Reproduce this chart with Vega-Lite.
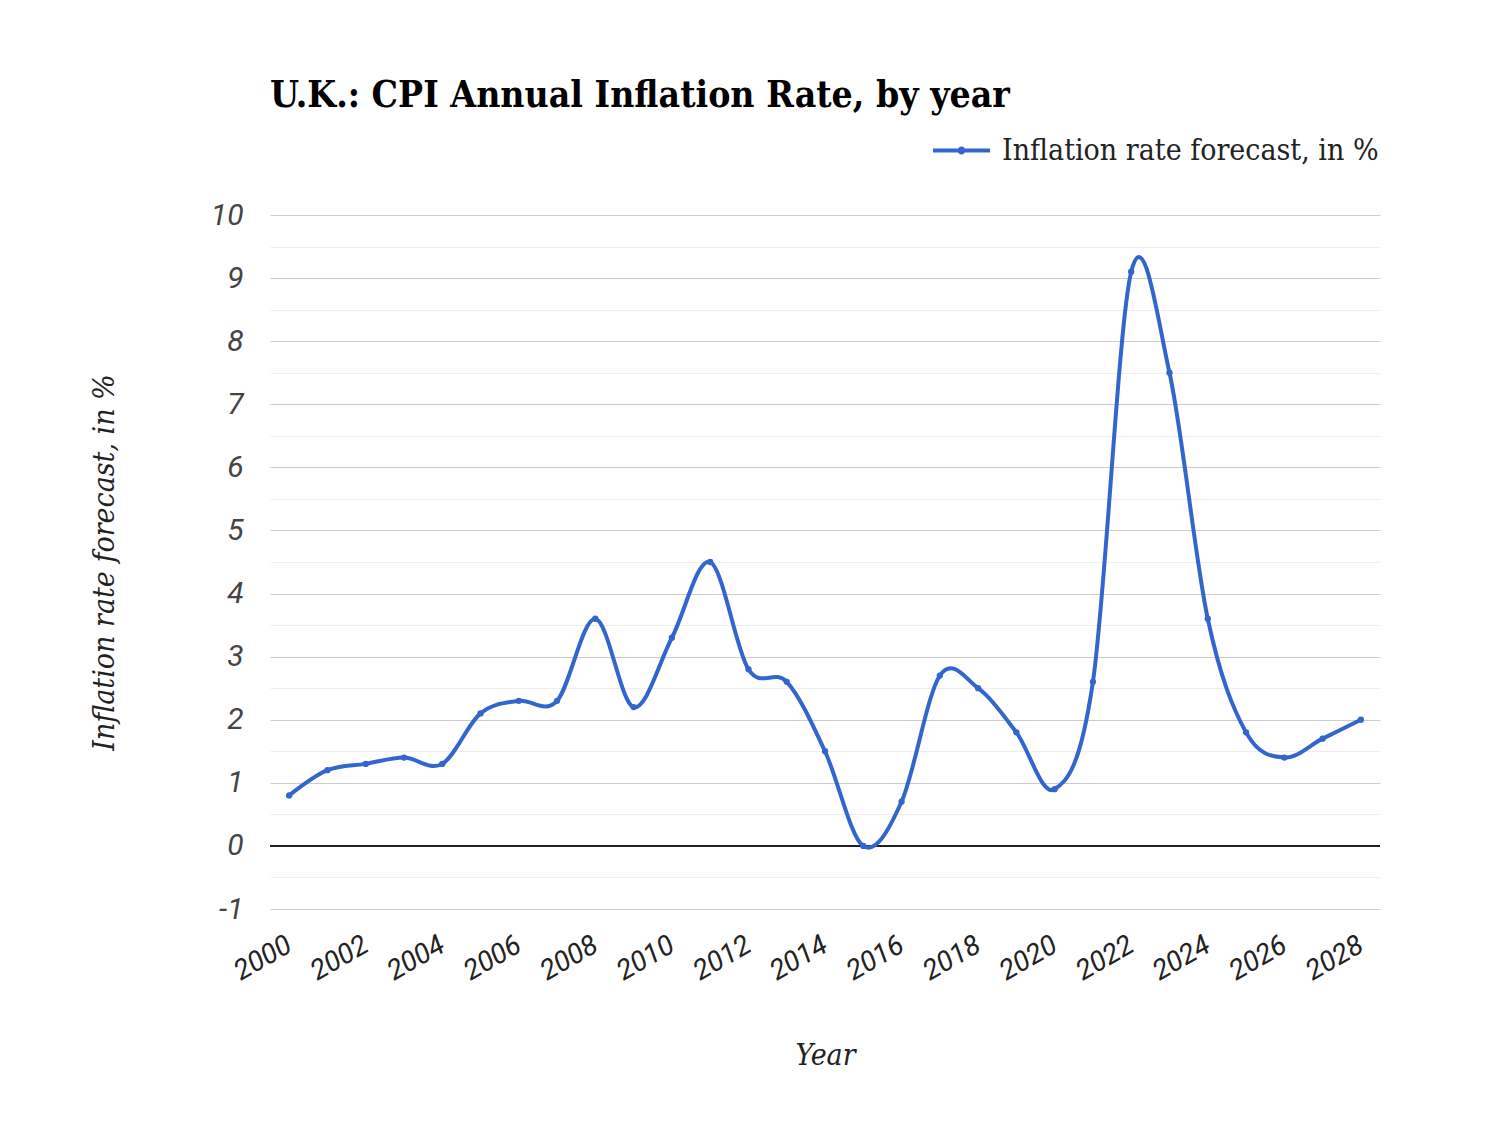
{
  "$schema": "https://vega.github.io/schema/vega-lite/v6.json",
  "width": 1110,
  "height": 694,
  "autosize": {"type": "none"},
  "padding": {"left": 270, "top": 215, "right": 120, "bottom": 216},
  "background": "white",
  "title": {
    "text": "U.K.: CPI Annual Inflation Rate, by year",
    "anchor": "start",
    "frame": "group",
    "font": "DejaVu Serif Condensed, DejaVu Serif",
    "fontSize": 37,
    "fontWeight": "bold",
    "color": "#000000",
    "offset": 7
  },
  "config": {
    "view": {"stroke": null},
    "axis": {"domain": false, "ticks": false}
  },
  "data": {
    "values": [
      {"year": 2000, "rate": 0.8, "series": "Inflation rate forecast, in %"},
      {"year": 2001, "rate": 1.2, "series": "Inflation rate forecast, in %"},
      {"year": 2002, "rate": 1.3, "series": "Inflation rate forecast, in %"},
      {"year": 2003, "rate": 1.4, "series": "Inflation rate forecast, in %"},
      {"year": 2004, "rate": 1.3, "series": "Inflation rate forecast, in %"},
      {"year": 2005, "rate": 2.1, "series": "Inflation rate forecast, in %"},
      {"year": 2006, "rate": 2.3, "series": "Inflation rate forecast, in %"},
      {"year": 2007, "rate": 2.3, "series": "Inflation rate forecast, in %"},
      {"year": 2008, "rate": 3.6, "series": "Inflation rate forecast, in %"},
      {"year": 2009, "rate": 2.2, "series": "Inflation rate forecast, in %"},
      {"year": 2010, "rate": 3.3, "series": "Inflation rate forecast, in %"},
      {"year": 2011, "rate": 4.5, "series": "Inflation rate forecast, in %"},
      {"year": 2012, "rate": 2.8, "series": "Inflation rate forecast, in %"},
      {"year": 2013, "rate": 2.6, "series": "Inflation rate forecast, in %"},
      {"year": 2014, "rate": 1.5, "series": "Inflation rate forecast, in %"},
      {"year": 2015, "rate": 0.0, "series": "Inflation rate forecast, in %"},
      {"year": 2016, "rate": 0.7, "series": "Inflation rate forecast, in %"},
      {"year": 2017, "rate": 2.7, "series": "Inflation rate forecast, in %"},
      {"year": 2018, "rate": 2.5, "series": "Inflation rate forecast, in %"},
      {"year": 2019, "rate": 1.8, "series": "Inflation rate forecast, in %"},
      {"year": 2020, "rate": 0.9, "series": "Inflation rate forecast, in %"},
      {"year": 2021, "rate": 2.6, "series": "Inflation rate forecast, in %"},
      {"year": 2022, "rate": 9.1, "series": "Inflation rate forecast, in %"},
      {"year": 2023, "rate": 7.5, "series": "Inflation rate forecast, in %"},
      {"year": 2024, "rate": 3.6, "series": "Inflation rate forecast, in %"},
      {"year": 2025, "rate": 1.8, "series": "Inflation rate forecast, in %"},
      {"year": 2026, "rate": 1.4, "series": "Inflation rate forecast, in %"},
      {"year": 2027, "rate": 1.7, "series": "Inflation rate forecast, in %"},
      {"year": 2028, "rate": 2.0, "series": "Inflation rate forecast, in %"}
    ]
  },
  "encoding": {
    "x": {
      "field": "year",
      "type": "quantitative",
      "scale": {"domain": [1999.5, 2028.5], "nice": false, "zero": false},
      "axis": {
        "title": "Year",
        "values": [2000, 2002, 2004, 2006, 2008, 2010, 2012, 2014, 2016, 2018, 2020, 2022, 2024, 2026, 2028],
        "format": "d",
        "grid": false,
        "labelAngle": -30,
        "labelAlign": "right",
        "labelBaseline": "middle",
        "labelFont": "Roboto",
        "labelFontStyle": "italic",
        "labelFontSize": 28,
        "labelColor": "#222222",
        "labelPadding": 34,
        "labelOverlap": false,
        "labelBound": false,
        "titleFont": "DejaVu Serif Condensed, DejaVu Serif",
        "titleFontStyle": "italic",
        "titleFontWeight": "normal",
        "titleFontSize": 30,
        "titleColor": "#222222",
        "titlePadding": 55
      }
    },
    "y": {
      "field": "rate",
      "type": "quantitative",
      "scale": {"domain": [-1, 10], "nice": false, "zero": false},
      "axis": {
        "title": "Inflation rate forecast, in %",
        "values": [-1, -0.5, 0, 0.5, 1, 1.5, 2, 2.5, 3, 3.5, 4, 4.5, 5, 5.5, 6, 6.5, 7, 7.5, 8, 8.5, 9, 9.5, 10],
        "labelExpr": "datum.value % 1 === 0 ? '' + datum.value : ''",
        "gridColor": {"condition": {"test": "datum.value % 1 === 0", "value": "#cccccc"}, "value": "#eeeeee"},
        "gridWidth": 1,
        "labelFont": "Roboto",
        "labelFontStyle": "italic",
        "labelFontSize": 30,
        "labelColor": "#444444",
        "labelPadding": 27,
        "labelOverlap": false,
        "titleFont": "DejaVu Serif Condensed, DejaVu Serif",
        "titleFontStyle": "italic",
        "titleFontWeight": "normal",
        "titleFontSize": 30,
        "titleColor": "#222222",
        "titlePadding": 91
      }
    }
  },
  "layer": [
    {
      "mark": {"type": "rule", "color": "#222222", "strokeWidth": 1.5},
      "encoding": {"y": {"datum": 0}, "x": {"value": 0}, "x2": {"value": 1110}}
    },
    {
      "mark": {"type": "line", "interpolate": "cardinal", "tension": 0, "strokeWidth": 4},
      "encoding": {
        "color": {
          "field": "series",
          "type": "nominal",
          "scale": {"range": ["#3366CC"]},
          "legend": {
            "title": null,
            "orient": "none",
            "legendX": 663,
            "legendY": -93,
            "symbolType": "M-1,-0.07 L1,-0.07 L1,0.07 L-1,0.07 Z M-0.14,0 A0.14,0.14 0 1,1 0.14,0 A0.14,0.14 0 1,1 -0.14,0 Z",
            "symbolSize": 3249,
            "symbolStrokeWidth": 0,
            "labelFont": "DejaVu Serif Condensed, DejaVu Serif",
            "labelFontSize": 30,
            "labelColor": "#222222",
            "labelLimit": 600,
            "labelOffset": 12,
            "encode": {"symbols": {"update": {"fill": {"value": "#3366CC"}, "stroke": {"value": "transparent"}, "opacity": {"value": 1}}}}
          }
        }
      }
    },
    {
      "mark": {"type": "point", "filled": true, "size": 40, "color": "#3366CC", "opacity": 1},
      "encoding": {}
    }
  ]
}
